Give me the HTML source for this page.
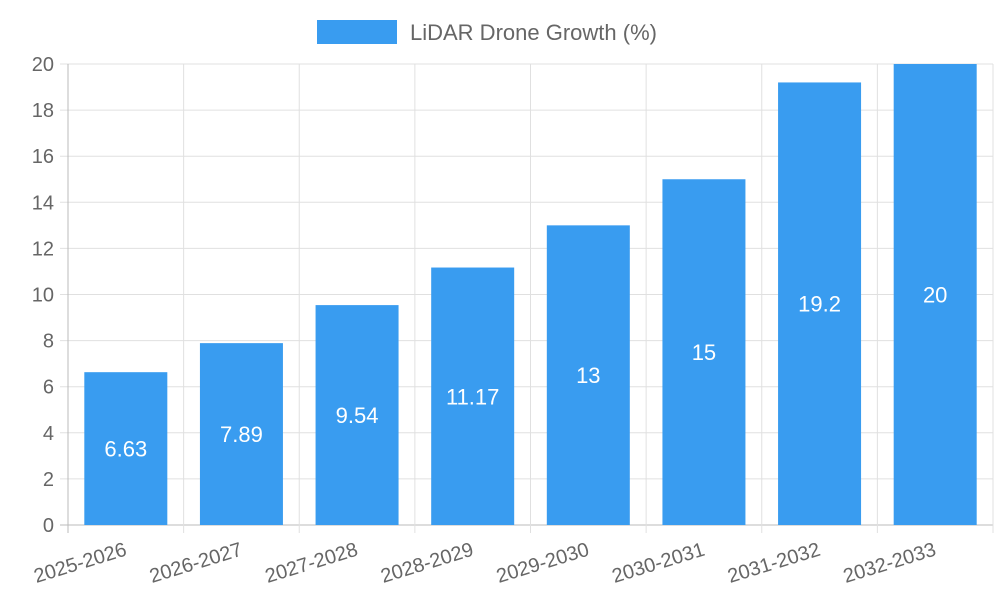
<!DOCTYPE html>
<html><head><meta charset="utf-8"><style>
body{margin:0;background:#fff;font-family:"Liberation Sans",sans-serif;}
</style></head><body>
<svg id="chart" width="1000" height="600" xmlns="http://www.w3.org/2000/svg" font-family="Liberation Sans, sans-serif"></svg>
<script>
const categories=["2025-2026","2026-2027","2027-2028","2028-2029","2029-2030","2030-2031","2031-2032","2032-2033"];
const values=[6.63,7.89,9.54,11.17,13,15,19.2,20];
const yTicks=[0,2,4,6,8,10,12,14,16,18,20];
const NS="http://www.w3.org/2000/svg";
const svg=document.getElementById('chart');
const L=68,R=993,T=64,B=525,yMax=20;
const bw=(R-L)/categories.length;
const y=v=>B-(v/yMax)*(B-T);
const x=i=>L+i*bw;
function mk(t,a,p){const e=document.createElementNS(NS,t);for(const k in a)e.setAttribute(k,a[k]);(p||svg).appendChild(e);return e;}
// legend
const lg=mk('g',{});


mk('rect',{x:317,y:20,width:80,height:24,fill:'#399cf0'},lg);
const lt=mk('text',{x:410,y:40,'font-size':22,fill:'#666'},lg);lt.textContent='LiDAR Drone Growth (%)';
// grid
yTicks.forEach(v=>{
 const l=mk('line',{x1:L-8,x2:R,y1:y(v),y2:y(v),stroke:v===0?'#bbb':'#e0e0e0','stroke-width':1});
 
 
 const t=mk('text',{x:L-14,y:y(v)+7,'font-size':20,fill:'#666','text-anchor':'end'});
 
 
 t.textContent=v;
});
for(let i=0;i<=categories.length;i++){
 const l=mk('line',{x1:x(i),x2:x(i),y1:T,y2:B+8,stroke:i===0?'#bbb':'#e0e0e0','stroke-width':1});
 
 
}
categories.forEach((c,i)=>{
 const cx=x(i)+bw/2, w=83;
 const r=mk('rect',{x:cx-w/2,y:y(values[i]),width:w,height:B-y(values[i]),fill:'#399cf0'});
 
 
 const vt=mk('text',{x:cx,y:(y(values[i])+B)/2+8,'font-size':22,fill:'#fff','text-anchor':'middle'});
 
 
 vt.textContent=values[i];
 const tx=cx+2, ty=B+30;
 const xt=mk('text',{x:tx,y:ty,'font-size':20,fill:'#666','text-anchor':'end',transform:`rotate(-17 ${tx} ${ty})`});
 
 
 xt.textContent=c;
});
</script>
</body></html>
